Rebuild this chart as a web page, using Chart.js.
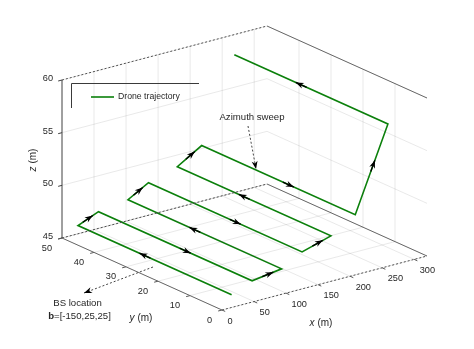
<!DOCTYPE html>
<html>
<head>
<meta charset="utf-8">
<script src="https://cdn.jsdelivr.net/npm/chart.js@4.4.0/dist/chart.umd.min.js"></script>
<style>
  html, body { margin: 0; padding: 0; background: #fff; }
  #wrap { width: 474px; height: 349px; }
</style>
</head>
<body>
<div id="wrap"><canvas id="chart" width="474" height="349"></canvas></div>
<script>
// drone sweep legs (each leg runs along y at fixed x and altitude)
const legX = [20, 52, 98, 130, 175, 213, 264];
const legZ = [46.0, 46.8, 47.2, 48.3, 49.1, 50.5, 58.3];
const legY = [1, 49];

const xTicks = [0, 50, 100, 150, 200, 250, 300];
const yTicks = [0, 10, 20, 30, 40, 50];
const zTicks = [45, 50, 55, 60];
const xLim = [0, 320];
const yLim = [0, 50];
const zLim = [45, 60];

// orthographic 3d view -> canvas units (matlab style az/el look)
const view = {
  ox: 222, oy: 310,
  ux: [205 / 320, -54 / 320],
  uy: [-160 / 50, -72 / 50],
  uz: -158 / 15,
};
function proj(x, y, z) {
  return {
    x: view.ox + x * view.ux[0] + y * view.uy[0],
    y: view.oy + x * view.ux[1] + y * view.uy[1] + (z - zLim[0]) * view.uz,
  };
}

// build trajectory
const path = [];
legX.forEach((x, i) => {
  const ys = i % 2 === 0 ? legY : [legY[1], legY[0]];
  path.push([x, ys[0], legZ[i]]);
  path.push([x, ys[1], legZ[i]]);
});

const GRID = "rgba(38,38,38,0.1)";
const EDGE = "#6e6e6e";
const TEXT = "#262626";
const GREEN = "#0b800b";
const FONT = "'Liberation Sans', Arial, sans-serif";

const datasets = [];
function seg(a, b, color, width, dash) {
  datasets.push({
    data: [proj(...a), proj(...b)],
    borderColor: color,
    borderWidth: width,
    borderDash: dash || [],
    pointRadius: 0,
    showLine: true,
    fill: false,
  });
}

// grid: floor, back wall (y = max), right wall (x = max)
xTicks.forEach((x) => {
  seg([x, yLim[0], zLim[0]], [x, yLim[1], zLim[0]], GRID, 1);
  if (x > 0) seg([x, yLim[1], zLim[0]], [x, yLim[1], zLim[1]], GRID, 1);
});
yTicks.forEach((y) => {
  seg([xLim[0], y, zLim[0]], [xLim[1], y, zLim[0]], GRID, 1);
  if (y > yLim[0] && y < yLim[1]) seg([xLim[1], y, zLim[0]], [xLim[1], y, zLim[1]], GRID, 1);
});
zTicks.forEach((z) => {
  seg([xLim[0], yLim[1], z], [xLim[1], yLim[1], z], GRID, 1);
  seg([xLim[1], yLim[0], z], [xLim[1], yLim[1], z], GRID, 1);
});

// box edges
seg([0, yLim[1], zLim[0]], [0, yLim[1], zLim[1]], "#404040", 1);
seg([0, yLim[0], zLim[0]], [0, yLim[1], zLim[0]], EDGE, 1);
seg([xLim[1], yLim[0], zLim[0]], [xLim[1], yLim[1], zLim[0]], EDGE, 1);
seg([xLim[1], yLim[0], zLim[1]], [xLim[1], yLim[1], zLim[1]], EDGE, 1);
seg([0, yLim[0], zLim[0]], [xLim[1], yLim[0], zLim[0]], "#555", 1, [2, 2]);
seg([0, yLim[1], zLim[0]], [xLim[1], yLim[1], zLim[0]], "#555", 1, [2, 2]);
seg([0, yLim[1], zLim[1]], [xLim[1], yLim[1], zLim[1]], "#555", 1, [2, 2]);

// tick marks
xTicks.forEach((x) => seg([x, 0, zLim[0]], [x, -1, zLim[0]], "#555", 1));
yTicks.forEach((y) => seg([0, y, zLim[0]], [-6, y, zLim[0]], "#555", 1));
zTicks.forEach((z) => seg([0, yLim[1], z], [-6, yLim[1], z], "#404040", 1));

// trajectory
datasets.push({
  label: "Drone trajectory",
  data: path.map((p) => proj(...p)),
  borderColor: GREEN,
  borderWidth: 1.6,
  pointRadius: 0,
  showLine: true,
  fill: false,
});
const trajIndex = datasets.length - 1;

function arrowHead(ctx, x, y, ang, len, half) {
  ctx.save();
  ctx.translate(x, y);
  ctx.rotate(ang);
  ctx.fillStyle = "#000";
  ctx.beginPath();
  ctx.moveTo(0, 0);
  ctx.lineTo(-len, -half);
  ctx.lineTo(-len * 0.7, 0);
  ctx.lineTo(-len, half);
  ctx.closePath();
  ctx.fill();
  ctx.restore();
}

function dashedArrow(ctx, x0, y0, x1, y1) {
  ctx.save();
  ctx.strokeStyle = "#444";
  ctx.lineWidth = 1;
  ctx.setLineDash([2, 2]);
  ctx.beginPath();
  ctx.moveTo(x0, y0);
  ctx.lineTo(x1, y1);
  ctx.stroke();
  ctx.restore();
  arrowHead(ctx, x1, y1, Math.atan2(y1 - y0, x1 - x0), 8, 3);
}

function mixedText(ctx, parts, cx, cy) {
  // parts: [text, font]
  let w = 0;
  parts.forEach((p) => { ctx.font = p[1]; w += ctx.measureText(p[0]).width; });
  let x = cx - w / 2;
  ctx.textAlign = "left";
  parts.forEach((p) => {
    ctx.font = p[1];
    ctx.fillText(p[0], x, cy);
    x += ctx.measureText(p[0]).width;
  });
}

const overlay = {
  id: "overlay",
  afterDatasetsDraw(chart) {
    const ctx = chart.ctx;
    const sx = chart.scales.x, sy = chart.scales.y;
    const px = (p) => ({ x: sx.getPixelForValue(p.x), y: sy.getPixelForValue(p.y) });

    // direction arrows along the path
    const pts = chart.data.datasets[trajIndex].data.map(px);
    for (let i = 0; i < pts.length - 1; i++) {
      const a = pts[i], b = pts[i + 1];
      const dx = b.x - a.x, dy = b.y - a.y;
      const L = Math.hypot(dx, dy);
      const t = L > 60 ? 0.6 : 0.72;
      const tx = a.x + dx * t, ty = a.y + dy * t;
      ctx.save();
      ctx.strokeStyle = "#000";
      ctx.lineWidth = 1.3;
      ctx.beginPath();
      ctx.moveTo(tx - (dx / L) * 12, ty - (dy / L) * 12);
      ctx.lineTo(tx, ty);
      ctx.stroke();
      ctx.restore();
      arrowHead(ctx, tx, ty, Math.atan2(dy, dx), 8, 3);
    }

    ctx.save();
    ctx.fillStyle = TEXT;
    ctx.textBaseline = "middle";

    // tick labels
    ctx.font = "9.2px " + FONT;
    ctx.textAlign = "left";
    xTicks.forEach((x) => {
      const p = px(proj(x, 0, zLim[0]));
      ctx.fillText(String(x), p.x + 5.5, p.y + 11);
    });
    ctx.textAlign = "right";
    yTicks.forEach((y) => {
      const p = px(proj(0, y, zLim[0]));
      ctx.fillText(String(y), p.x - 10, p.y + 10);
    });
    zTicks.forEach((z) => {
      const p = px(proj(0, yLim[1], z));
      ctx.fillText(String(z), p.x - 9, p.y - 1.5);
    });

    // axis labels
    const it = "italic 10px " + FONT, rg = "10px " + FONT;
    mixedText(ctx, [["x", it], [" (m)", rg]], 321, 323);
    mixedText(ctx, [["y", it], [" (m)", rg]], 141, 318);
    ctx.save();
    ctx.translate(33, 160);
    ctx.rotate(-Math.PI / 2);
    mixedText(ctx, [["z", it], [" (m)", rg]], 0, 0);
    ctx.restore();

    // annotations
    ctx.font = "9.6px " + FONT;
    ctx.textAlign = "center";
    ctx.fillText("Azimuth sweep", 252, 117);
    ctx.fillText("BS location", 77.5, 303);
    mixedText(ctx, [["b", "bold 9.6px " + FONT], ["=[-150,25,25]", "9.6px " + FONT]], 79.5, 316);

    const tip = px(proj(legX[5], 32, legZ[5]));
    dashedArrow(ctx, 248, 126, tip.x, tip.y - 1);
    dashedArrow(ctx, 153, 267, 84, 293);

    // legend (only top and left edges visible)
    ctx.strokeStyle = "#3a3a3a";
    ctx.lineWidth = 1;
    ctx.beginPath();
    ctx.moveTo(71.5, 108);
    ctx.lineTo(71.5, 83.5);
    ctx.lineTo(199, 83.5);
    ctx.stroke();
    ctx.strokeStyle = GREEN;
    ctx.lineWidth = 1.6;
    ctx.beginPath();
    ctx.moveTo(91, 97);
    ctx.lineTo(114, 97);
    ctx.stroke();
    ctx.font = "8.7px " + FONT;
    ctx.textAlign = "left";
    ctx.fillStyle = TEXT;
    ctx.fillText("Drone trajectory", 118, 97);
    ctx.restore();
  },
};

new Chart(document.getElementById("chart"), {
  type: "scatter",
  data: { datasets },
  options: {
    responsive: false,
    animation: false,
    devicePixelRatio: 1,
    layout: { padding: 0 },
    plugins: { legend: { display: false }, tooltip: { enabled: false } },
    scales: {
      x: { type: "linear", min: 0, max: 474, display: false },
      y: { type: "linear", min: 0, max: 349, reverse: true, display: false },
    },
  },
  plugins: [overlay],
});
</script>
</body>
</html>
